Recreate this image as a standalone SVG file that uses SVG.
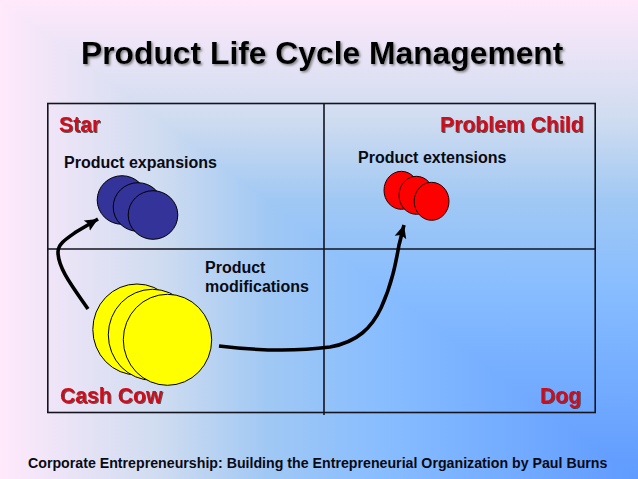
<svg xmlns="http://www.w3.org/2000/svg" width="638" height="479" viewBox="0 0 638 479">
<style>
text{font-family:"Liberation Sans",Arial,sans-serif;font-weight:bold}
.title{font-size:31.8px;fill:#000;filter:url(#sh)}
.q{font-size:21.2px;fill:#cc0a1c;filter:url(#sh2)}
.l{font-size:16px;fill:#0a0a14}
.foot{font-size:14.2px;fill:#0a0a14}
.grid{fill:none;stroke:#14141e;stroke-width:1.6}
.blue{fill:#333399;stroke:#000;stroke-width:1}
.red{fill:#ff0000;stroke:#200;stroke-width:1}
.yel{fill:#ffff00;stroke:#000;stroke-width:1}
.arrow{fill:none;stroke:#000;stroke-width:3.6;marker-end:url(#ah)}
</style>
<defs>
<linearGradient id="gh" gradientUnits="userSpaceOnUse" x1="0" y1="0" x2="638" y2="0">
<stop offset="0" stop-color="#ffe9fb"/><stop offset=".25" stop-color="#cfdcf0"/><stop offset=".42" stop-color="#a0c8f4"/><stop offset=".6" stop-color="#88bdff"/><stop offset="1" stop-color="#5f9bff"/>
</linearGradient>
<linearGradient id="gv" gradientUnits="userSpaceOnUse" x1="0" y1="0" x2="0" y2="479">
<stop offset="0" stop-color="#ffe9fb"/><stop offset=".25" stop-color="#cfdcf0"/><stop offset=".42" stop-color="#a0c8f4"/><stop offset=".6" stop-color="#88bdff"/><stop offset="1" stop-color="#5f9bff"/>
</linearGradient>
<filter id="sh" x="-5%" y="-20%" width="110%" height="150%"><feDropShadow dx="1.5" dy="1.5" stdDeviation="0.8" flood-color="#666" flood-opacity="0.8"/></filter>
<filter id="sh2" x="-10%" y="-20%" width="120%" height="150%"><feDropShadow dx="1" dy="1" stdDeviation="0.5" flood-color="#333" flood-opacity="0.8"/></filter>
<marker id="ah" markerUnits="userSpaceOnUse" markerWidth="16" markerHeight="14" refX="13" refY="7" orient="auto"><path d="M0 1L13 7L0 13L2.5 7Z" fill="#000"/></marker>
</defs>
<g id="background">
<rect width="638" height="479" fill="url(#gv)"/>
<polygon points="0,0 638,479 0,479" fill="url(#gh)"/>
</g>
<text class="title" x="81" y="64">Product Life Cycle Management</text>
<g id="matrix">
<rect class="grid" x="47.8" y="103.5" width="547.4" height="309"/>
<path class="grid" d="M47.8 249H595.2M324 103.5V415"/>
</g>
<g id="star"><text class="q" x="59" y="131.7">Star</text><text class="l" x="64" y="168">Product expansions</text>
<ellipse class="blue" cx="122" cy="200" rx="24.8" ry="24.3"/><ellipse class="blue" cx="138" cy="207" rx="24.8" ry="24.3"/><ellipse class="blue" cx="153" cy="215" rx="24.8" ry="24.3"/></g>
<g id="problem-child"><text class="q" x="440" y="131.7">Problem Child</text><text class="l" x="358" y="162.7">Product extensions</text>
<ellipse class="red" cx="401.4" cy="190.3" rx="17.4" ry="19"/><ellipse class="red" cx="416.4" cy="195.3" rx="17.4" ry="19"/><ellipse class="red" cx="431.6" cy="201.3" rx="17.4" ry="19"/></g>
<g id="cash-cow"><text class="q" x="60" y="402.7">Cash Cow</text>
<ellipse class="yel" cx="137" cy="329.5" rx="44.2" ry="45.5"/><ellipse class="yel" cx="152.5" cy="334.8" rx="44.2" ry="45.5"/><ellipse class="yel" cx="167.5" cy="339.8" rx="44.2" ry="45.5"/></g>
<g id="dog"><text class="q" x="540" y="402.7">Dog</text></g>
<g id="modifications"><text class="l" x="205" y="272.7">Product</text><text class="l" x="205" y="291.7">modifications</text></g>
<g id="connectors">
<path class="arrow" d="M88 309C72 286 58 268 58 252C58 244 66 239 76 232L98 219"/>
<path class="arrow" d="M219 346C260 351 300 351 330 347C358 342 372 327 381 308C392 284 396 262 399 245C401 238 402 232 404 225"/>
</g>
<text class="foot" x="28" y="468">Corporate Entrepreneurship: Building the Entrepreneurial Organization by Paul Burns</text>
</svg>
